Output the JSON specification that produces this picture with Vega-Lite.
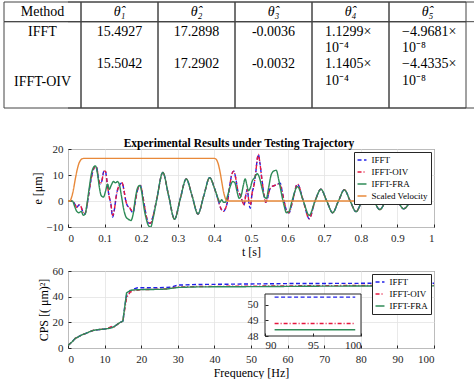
{
  "$schema": "https://vega.github.io/schema/vega-lite/v6.json",
  "background": "white",
  "padding": {"left": 3, "top": 1, "right": 0, "bottom": 0},
  "config": {
    "font": "Liberation Serif",
    "view": {"stroke": "#262626", "strokeWidth": 1},
    "axis": {
      "labelFont": "Liberation Serif", "titleFont": "Liberation Serif",
      "labelFontSize": 11, "titleFontSize": 12, "titleFontWeight": "normal",
      "labelColor": "#262626", "titleColor": "#000000",
      "grid": true, "gridColor": "#e3e3e3", "gridWidth": 0.8,
      "domain": false, "ticks": true, "tickSize": -3, "tickColor": "#262626",
      "labelPadding": 8, "titlePadding": 2
    },
    "legend": {
      "orient": "top-right", "offset": 3,
      "fillColor": "white", "strokeColor": "#262626", "padding": 2.5,
      "symbolType": "stroke", "symbolSize": 80, "symbolStrokeWidth": 1.4,
      "labelFont": "Liberation Serif", "labelFontSize": 9, "labelColor": "#000000",
      "rowPadding": 1, "labelOffset": 4
    }
  },
  "spacing": 28,
  "vconcat": [
    {
      "width": 406,
      "height": 106,
      "view": {"stroke": null},
      "data": {
        "values": [
          {"g": "c", "col": "Method", "ln": 0.81, "txt": "Method"},
          {"g": "h", "col": "t1", "ln": 0.81, "txt": "\u03b8\u0302\u2081"},
          {"g": "h", "col": "t2", "ln": 0.81, "txt": "\u03b8\u0302\u2082"},
          {"g": "h", "col": "t3", "ln": 0.81, "txt": "\u03b8\u0302\u2083"},
          {"g": "h", "col": "t4", "ln": 0.81, "txt": "\u03b8\u0302\u2084"},
          {"g": "h", "col": "t5", "ln": 0.81, "txt": "\u03b8\u0302\u2085"},
          {"g": "c", "col": "Method", "ln": 2.46, "txt": "IFFT"},
          {"g": "c", "col": "t1", "ln": 2.46, "txt": "15.4927"},
          {"g": "c", "col": "t2", "ln": 2.46, "txt": "17.2898"},
          {"g": "c", "col": "t3", "ln": 2.46, "txt": "-0.0036"},
          {"g": "l", "col": "t4", "ln": 2.46, "txt": "1.1299\u00d7"},
          {"g": "l", "col": "t4", "ln": 3.87, "txt": "10\u207b\u2074"},
          {"g": "l", "col": "t5", "ln": 2.46, "txt": "\u22124.9681\u00d7"},
          {"g": "l", "col": "t5", "ln": 3.87, "txt": "10\u207b\u2078"},
          {"g": "c", "col": "t1", "ln": 5.19, "txt": "15.5042"},
          {"g": "c", "col": "t2", "ln": 5.19, "txt": "17.2902"},
          {"g": "c", "col": "t3", "ln": 5.19, "txt": "-0.0032"},
          {"g": "l", "col": "t4", "ln": 5.19, "txt": "1.1405\u00d7"},
          {"g": "l", "col": "t4", "ln": 6.58, "txt": "10\u207b\u2074"},
          {"g": "l", "col": "t5", "ln": 5.19, "txt": "\u22124.4335\u00d7"},
          {"g": "l", "col": "t5", "ln": 6.58, "txt": "10\u207b\u2078"},
          {"g": "c", "col": "Method", "ln": 6.64, "txt": "IFFT-OIV"}
        ]
      },
      "encoding": {
        "x": {
          "field": "col", "type": "nominal",
          "scale": {"type": "band", "domain": ["Method", "t1", "t2", "t3", "t4", "t5"], "range": [-64, 398], "paddingInner": 0, "paddingOuter": 0},
          "axis": null
        },
        "y": {
          "field": "ln", "type": "quantitative",
          "scale": {"domain": [0, 8.83], "nice": false, "zero": false, "reverse": true},
          "axis": {"orient": "right", "domain": true, "domainColor": "#444444", "domainWidth": 1, "labels": false, "ticks": false, "grid": false, "title": null}
        }
      },
      "layer": [
        {
          "data": {
            "values": [
              {"col": "Method", "y0": 0, "y1": 1.64}, {"col": "t1", "y0": 0, "y1": 1.64}, {"col": "t2", "y0": 0, "y1": 1.64},
              {"col": "t3", "y0": 0, "y1": 1.64}, {"col": "t4", "y0": 0, "y1": 1.64}, {"col": "t5", "y0": 0, "y1": 1.64},
              {"col": "Method", "y0": 1.64, "y1": 8.83}, {"col": "t1", "y0": 1.64, "y1": 8.83}, {"col": "t2", "y0": 1.64, "y1": 8.83},
              {"col": "t3", "y0": 1.64, "y1": 8.83}, {"col": "t4", "y0": 1.64, "y1": 8.83}, {"col": "t5", "y0": 1.64, "y1": 8.83}
            ]
          },
          "mark": {"type": "rect", "filled": false, "color": "#444444", "strokeWidth": 1},
          "encoding": {
            "y": {"field": "y0", "type": "quantitative", "scale": {"domain": [0, 8.83], "nice": false, "zero": false, "reverse": true}, "axis": null},
            "y2": {"field": "y1"}
          }
        },
        {
          "data": {"values": [{"ln": 0}, {"ln": 1.64}, {"ln": 8.83}]},
          "mark": {"type": "rule", "color": "#444444", "strokeWidth": 1},
          "encoding": {"x": null}
        },
        {
          "transform": [{"filter": "datum.g == 'c'"}],
          "mark": {"type": "text", "fontSize": 14, "color": "#000000", "baseline": "middle", "align": "center"},
          "encoding": {"text": {"field": "txt"}}
        },
        {
          "transform": [{"filter": "datum.g == 'h'"}],
          "mark": {"type": "text", "fontSize": 14, "fontStyle": "italic", "color": "#000000", "baseline": "middle", "align": "center"},
          "encoding": {"text": {"field": "txt"}}
        },
        {
          "transform": [{"filter": "datum.g == 'l'"}],
          "mark": {"type": "text", "fontSize": 14, "color": "#000000", "baseline": "middle", "align": "left"},
          "encoding": {
            "x": {"field": "col", "type": "nominal", "bandPosition": 0.17},
            "text": {"field": "txt"}
          }
        }
      ]
    },
    {
      "bounds": "flush",
      "spacing": 44,
      "resolve": {"scale": {"color": "independent", "strokeDash": "independent"}, "legend": {"color": "independent", "strokeDash": "independent"}},
      "vconcat": [
        {
          "width": 366,
          "height": 78,
          "title": {"text": "Experimental Results under Testing Trajectory", "font": "Liberation Serif", "fontSize": 11.5, "fontWeight": "bold", "color": "#000000", "offset": -6, "dx": -12},
          "data": {
            "values": [
              {"s": "IFFT", "t": 0, "e": 0}, {"s": "IFFT", "t": 0.012, "e": 0}, {"s": "IFFT", "t": 0.018, "e": -1}, {"s": "IFFT", "t": 0.024, "e": -2.5},
              {"s": "IFFT", "t": 0.03, "e": -1.5}, {"s": "IFFT", "t": 0.035, "e": -2}, {"s": "IFFT", "t": 0.04, "e": -4}, {"s": "IFFT", "t": 0.046, "e": -5},
              {"s": "IFFT", "t": 0.051, "e": -2.5}, {"s": "IFFT", "t": 0.056, "e": 2}, {"s": "IFFT", "t": 0.062, "e": 7.5}, {"s": "IFFT", "t": 0.068, "e": 11.5},
              {"s": "IFFT", "t": 0.074, "e": 13.2}, {"s": "IFFT", "t": 0.078, "e": 13}, {"s": "IFFT", "t": 0.083, "e": 9}, {"s": "IFFT", "t": 0.088, "e": 6.5},
              {"s": "IFFT", "t": 0.093, "e": 8}, {"s": "IFFT", "t": 0.098, "e": 11.5}, {"s": "IFFT", "t": 0.102, "e": 11.5}, {"s": "IFFT", "t": 0.107, "e": 7},
              {"s": "IFFT", "t": 0.112, "e": 2}, {"s": "IFFT", "t": 0.117, "e": -1}, {"s": "IFFT", "t": 0.122, "e": -6.2}, {"s": "IFFT", "t": 0.127, "e": -3},
              {"s": "IFFT", "t": 0.132, "e": 2}, {"s": "IFFT", "t": 0.138, "e": 5.5}, {"s": "IFFT", "t": 0.143, "e": 6.5}, {"s": "IFFT", "t": 0.148, "e": 7},
              {"s": "IFFT", "t": 0.153, "e": 4}, {"s": "IFFT", "t": 0.158, "e": 0}, {"s": "IFFT", "t": 0.163, "e": -2}, {"s": "IFFT", "t": 0.168, "e": -2.5},
              {"s": "IFFT", "t": 0.173, "e": -3.8}, {"s": "IFFT", "t": 0.178, "e": -4.5}, {"s": "IFFT", "t": 0.183, "e": -1}, {"s": "IFFT", "t": 0.188, "e": 3},
              {"s": "IFFT", "t": 0.193, "e": 5.5}, {"s": "IFFT", "t": 0.198, "e": 6}, {"s": "IFFT", "t": 0.203, "e": 3}, {"s": "IFFT", "t": 0.209, "e": -2},
              {"s": "IFFT", "t": 0.215, "e": -6.5}, {"s": "IFFT", "t": 0.221, "e": -8.5}, {"s": "IFFT", "t": 0.226, "e": -8.5}, {"s": "IFFT", "t": 0.232, "e": -6},
              {"s": "IFFT", "t": 0.243, "e": 1}, {"s": "IFFT", "t": 0.259, "e": 11}, {"s": "IFFT", "t": 0.275, "e": 2}, {"s": "IFFT", "t": 0.291, "e": -7},
              {"s": "IFFT", "t": 0.307, "e": 1}, {"s": "IFFT", "t": 0.323, "e": 8.5}, {"s": "IFFT", "t": 0.339, "e": 2}, {"s": "IFFT", "t": 0.355, "e": -5},
              {"s": "IFFT", "t": 0.371, "e": 2}, {"s": "IFFT", "t": 0.387, "e": 9}, {"s": "IFFT", "t": 0.4, "e": 5}, {"s": "IFFT", "t": 0.41, "e": 0.5},
              {"s": "IFFT", "t": 0.418, "e": -3}, {"s": "IFFT", "t": 0.425, "e": -4}, {"s": "IFFT", "t": 0.43, "e": -3}, {"s": "IFFT", "t": 0.436, "e": 0},
              {"s": "IFFT", "t": 0.442, "e": 6}, {"s": "IFFT", "t": 0.448, "e": 10.5}, {"s": "IFFT", "t": 0.453, "e": 11.5}, {"s": "IFFT", "t": 0.458, "e": 9},
              {"s": "IFFT", "t": 0.464, "e": 4}, {"s": "IFFT", "t": 0.47, "e": 2.5}, {"s": "IFFT", "t": 0.476, "e": 0}, {"s": "IFFT", "t": 0.481, "e": -1.5},
              {"s": "IFFT", "t": 0.486, "e": 2.5}, {"s": "IFFT", "t": 0.49, "e": 4.5}, {"s": "IFFT", "t": 0.494, "e": -0.5}, {"s": "IFFT", "t": 0.498, "e": -2.8},
              {"s": "IFFT", "t": 0.503, "e": 3}, {"s": "IFFT", "t": 0.508, "e": 6}, {"s": "IFFT", "t": 0.513, "e": 11}, {"s": "IFFT", "t": 0.517, "e": 16},
              {"s": "IFFT", "t": 0.52, "e": 18}, {"s": "IFFT", "t": 0.524, "e": 15}, {"s": "IFFT", "t": 0.53, "e": 8}, {"s": "IFFT", "t": 0.536, "e": 2},
              {"s": "IFFT", "t": 0.54, "e": -0.5}, {"s": "IFFT", "t": 0.545, "e": 1}, {"s": "IFFT", "t": 0.55, "e": 4}, {"s": "IFFT", "t": 0.557, "e": 5.5},
              {"s": "IFFT", "t": 0.565, "e": 6}, {"s": "IFFT", "t": 0.572, "e": 6.5}, {"s": "IFFT", "t": 0.58, "e": 6.8}, {"s": "IFFT", "t": 0.586, "e": 3},
              {"s": "IFFT", "t": 0.592, "e": -1}, {"s": "IFFT", "t": 0.598, "e": -4}, {"s": "IFFT", "t": 0.604, "e": -4.5}, {"s": "IFFT", "t": 0.612, "e": -1},
              {"s": "IFFT", "t": 0.627, "e": 6.5}, {"s": "IFFT", "t": 0.643, "e": 0}, {"s": "IFFT", "t": 0.659, "e": -6.8}, {"s": "IFFT", "t": 0.675, "e": 0},
              {"s": "IFFT", "t": 0.691, "e": 4.5}, {"s": "IFFT", "t": 0.707, "e": 0}, {"s": "IFFT", "t": 0.723, "e": -4.5}, {"s": "IFFT", "t": 0.739, "e": 0},
              {"s": "IFFT", "t": 0.755, "e": 4.3}, {"s": "IFFT", "t": 0.771, "e": 0}, {"s": "IFFT", "t": 0.787, "e": -4.1}, {"s": "IFFT", "t": 0.803, "e": 0},
              {"s": "IFFT", "t": 0.82, "e": 4}, {"s": "IFFT", "t": 0.836, "e": 0}, {"s": "IFFT", "t": 0.852, "e": -3.3}, {"s": "IFFT", "t": 0.868, "e": 0},
              {"s": "IFFT", "t": 0.885, "e": 3.5}, {"s": "IFFT", "t": 0.901, "e": 0}, {"s": "IFFT", "t": 0.917, "e": -3}, {"s": "IFFT", "t": 0.935, "e": 0},

              {"s": "IFFT-OIV", "t": 0, "e": 0}, {"s": "IFFT-OIV", "t": 0.012, "e": 0}, {"s": "IFFT-OIV", "t": 0.018, "e": -1}, {"s": "IFFT-OIV", "t": 0.024, "e": -2.5},
              {"s": "IFFT-OIV", "t": 0.03, "e": -1.5}, {"s": "IFFT-OIV", "t": 0.035, "e": -2}, {"s": "IFFT-OIV", "t": 0.04, "e": -4}, {"s": "IFFT-OIV", "t": 0.046, "e": -5},
              {"s": "IFFT-OIV", "t": 0.051, "e": -2.5}, {"s": "IFFT-OIV", "t": 0.056, "e": 2}, {"s": "IFFT-OIV", "t": 0.062, "e": 7.5}, {"s": "IFFT-OIV", "t": 0.068, "e": 11.5},
              {"s": "IFFT-OIV", "t": 0.074, "e": 13.2}, {"s": "IFFT-OIV", "t": 0.078, "e": 13}, {"s": "IFFT-OIV", "t": 0.083, "e": 9}, {"s": "IFFT-OIV", "t": 0.088, "e": 6.5},
              {"s": "IFFT-OIV", "t": 0.093, "e": 8}, {"s": "IFFT-OIV", "t": 0.098, "e": 11.5}, {"s": "IFFT-OIV", "t": 0.102, "e": 11.5}, {"s": "IFFT-OIV", "t": 0.107, "e": 7},
              {"s": "IFFT-OIV", "t": 0.112, "e": 2}, {"s": "IFFT-OIV", "t": 0.117, "e": -1}, {"s": "IFFT-OIV", "t": 0.122, "e": -5.5}, {"s": "IFFT-OIV", "t": 0.127, "e": -3},
              {"s": "IFFT-OIV", "t": 0.132, "e": 2}, {"s": "IFFT-OIV", "t": 0.138, "e": 5.5}, {"s": "IFFT-OIV", "t": 0.143, "e": 6.5}, {"s": "IFFT-OIV", "t": 0.148, "e": 7},
              {"s": "IFFT-OIV", "t": 0.153, "e": 4}, {"s": "IFFT-OIV", "t": 0.158, "e": 0}, {"s": "IFFT-OIV", "t": 0.163, "e": -2}, {"s": "IFFT-OIV", "t": 0.168, "e": -2.5},
              {"s": "IFFT-OIV", "t": 0.173, "e": -3.5}, {"s": "IFFT-OIV", "t": 0.178, "e": -4}, {"s": "IFFT-OIV", "t": 0.183, "e": -1}, {"s": "IFFT-OIV", "t": 0.188, "e": 3},
              {"s": "IFFT-OIV", "t": 0.193, "e": 5.5}, {"s": "IFFT-OIV", "t": 0.198, "e": 6}, {"s": "IFFT-OIV", "t": 0.203, "e": 3}, {"s": "IFFT-OIV", "t": 0.209, "e": -2},
              {"s": "IFFT-OIV", "t": 0.215, "e": -6.5}, {"s": "IFFT-OIV", "t": 0.221, "e": -8.5}, {"s": "IFFT-OIV", "t": 0.226, "e": -8.5}, {"s": "IFFT-OIV", "t": 0.232, "e": -6},
              {"s": "IFFT-OIV", "t": 0.243, "e": 1}, {"s": "IFFT-OIV", "t": 0.259, "e": 11}, {"s": "IFFT-OIV", "t": 0.275, "e": 2}, {"s": "IFFT-OIV", "t": 0.291, "e": -7},
              {"s": "IFFT-OIV", "t": 0.307, "e": 1}, {"s": "IFFT-OIV", "t": 0.323, "e": 8.5}, {"s": "IFFT-OIV", "t": 0.339, "e": 2}, {"s": "IFFT-OIV", "t": 0.355, "e": -5},
              {"s": "IFFT-OIV", "t": 0.371, "e": 2}, {"s": "IFFT-OIV", "t": 0.387, "e": 9}, {"s": "IFFT-OIV", "t": 0.4, "e": 5}, {"s": "IFFT-OIV", "t": 0.41, "e": 0.5},
              {"s": "IFFT-OIV", "t": 0.418, "e": -3}, {"s": "IFFT-OIV", "t": 0.425, "e": -4}, {"s": "IFFT-OIV", "t": 0.43, "e": -3}, {"s": "IFFT-OIV", "t": 0.436, "e": 0},
              {"s": "IFFT-OIV", "t": 0.442, "e": 6}, {"s": "IFFT-OIV", "t": 0.448, "e": 10.5}, {"s": "IFFT-OIV", "t": 0.453, "e": 11.5}, {"s": "IFFT-OIV", "t": 0.458, "e": 9},
              {"s": "IFFT-OIV", "t": 0.464, "e": 4}, {"s": "IFFT-OIV", "t": 0.47, "e": 2.5}, {"s": "IFFT-OIV", "t": 0.476, "e": 0}, {"s": "IFFT-OIV", "t": 0.481, "e": -1.5},
              {"s": "IFFT-OIV", "t": 0.486, "e": 2.5}, {"s": "IFFT-OIV", "t": 0.49, "e": 4.5}, {"s": "IFFT-OIV", "t": 0.494, "e": 0}, {"s": "IFFT-OIV", "t": 0.498, "e": -1.5},
              {"s": "IFFT-OIV", "t": 0.503, "e": 3}, {"s": "IFFT-OIV", "t": 0.508, "e": 6}, {"s": "IFFT-OIV", "t": 0.513, "e": 11}, {"s": "IFFT-OIV", "t": 0.517, "e": 16},
              {"s": "IFFT-OIV", "t": 0.52, "e": 18}, {"s": "IFFT-OIV", "t": 0.524, "e": 15}, {"s": "IFFT-OIV", "t": 0.53, "e": 8}, {"s": "IFFT-OIV", "t": 0.536, "e": 2},
              {"s": "IFFT-OIV", "t": 0.54, "e": -0.5}, {"s": "IFFT-OIV", "t": 0.545, "e": 1}, {"s": "IFFT-OIV", "t": 0.55, "e": 4}, {"s": "IFFT-OIV", "t": 0.557, "e": 5.5},
              {"s": "IFFT-OIV", "t": 0.565, "e": 6}, {"s": "IFFT-OIV", "t": 0.572, "e": 6.5}, {"s": "IFFT-OIV", "t": 0.58, "e": 6}, {"s": "IFFT-OIV", "t": 0.586, "e": 3},
              {"s": "IFFT-OIV", "t": 0.592, "e": -1}, {"s": "IFFT-OIV", "t": 0.598, "e": -4}, {"s": "IFFT-OIV", "t": 0.604, "e": -4.5}, {"s": "IFFT-OIV", "t": 0.612, "e": -1},
              {"s": "IFFT-OIV", "t": 0.627, "e": 6.5}, {"s": "IFFT-OIV", "t": 0.643, "e": 0}, {"s": "IFFT-OIV", "t": 0.659, "e": -6.8}, {"s": "IFFT-OIV", "t": 0.675, "e": 0},
              {"s": "IFFT-OIV", "t": 0.691, "e": 4.5}, {"s": "IFFT-OIV", "t": 0.707, "e": 0}, {"s": "IFFT-OIV", "t": 0.723, "e": -4.5}, {"s": "IFFT-OIV", "t": 0.739, "e": 0},
              {"s": "IFFT-OIV", "t": 0.755, "e": 4.3}, {"s": "IFFT-OIV", "t": 0.771, "e": 0}, {"s": "IFFT-OIV", "t": 0.787, "e": -4.1}, {"s": "IFFT-OIV", "t": 0.803, "e": 0},
              {"s": "IFFT-OIV", "t": 0.82, "e": 4}, {"s": "IFFT-OIV", "t": 0.836, "e": 0}, {"s": "IFFT-OIV", "t": 0.852, "e": -3.3}, {"s": "IFFT-OIV", "t": 0.868, "e": 0},
              {"s": "IFFT-OIV", "t": 0.885, "e": 3.5}, {"s": "IFFT-OIV", "t": 0.901, "e": 0}, {"s": "IFFT-OIV", "t": 0.917, "e": -3}, {"s": "IFFT-OIV", "t": 0.935, "e": 0},

              {"s": "IFFT-FRA", "t": 0, "e": 0}, {"s": "IFFT-FRA", "t": 0.012, "e": 0}, {"s": "IFFT-FRA", "t": 0.018, "e": -2}, {"s": "IFFT-FRA", "t": 0.024, "e": -4},
              {"s": "IFFT-FRA", "t": 0.03, "e": -4.5}, {"s": "IFFT-FRA", "t": 0.036, "e": -4}, {"s": "IFFT-FRA", "t": 0.042, "e": -5.5}, {"s": "IFFT-FRA", "t": 0.047, "e": -5},
              {"s": "IFFT-FRA", "t": 0.052, "e": -1}, {"s": "IFFT-FRA", "t": 0.058, "e": 5}, {"s": "IFFT-FRA", "t": 0.064, "e": 10.5}, {"s": "IFFT-FRA", "t": 0.07, "e": 13},
              {"s": "IFFT-FRA", "t": 0.075, "e": 13.5}, {"s": "IFFT-FRA", "t": 0.08, "e": 11}, {"s": "IFFT-FRA", "t": 0.086, "e": 5}, {"s": "IFFT-FRA", "t": 0.091, "e": 2},
              {"s": "IFFT-FRA", "t": 0.097, "e": 1.5}, {"s": "IFFT-FRA", "t": 0.103, "e": 4}, {"s": "IFFT-FRA", "t": 0.108, "e": 6.5}, {"s": "IFFT-FRA", "t": 0.113, "e": 4.5},
              {"s": "IFFT-FRA", "t": 0.118, "e": 6}, {"s": "IFFT-FRA", "t": 0.124, "e": 7.5}, {"s": "IFFT-FRA", "t": 0.13, "e": 7}, {"s": "IFFT-FRA", "t": 0.135, "e": 7.5},
              {"s": "IFFT-FRA", "t": 0.14, "e": 6.5}, {"s": "IFFT-FRA", "t": 0.146, "e": 2}, {"s": "IFFT-FRA", "t": 0.152, "e": -3}, {"s": "IFFT-FRA", "t": 0.158, "e": -6},
              {"s": "IFFT-FRA", "t": 0.165, "e": -7}, {"s": "IFFT-FRA", "t": 0.172, "e": -7.5}, {"s": "IFFT-FRA", "t": 0.178, "e": -5}, {"s": "IFFT-FRA", "t": 0.184, "e": 1},
              {"s": "IFFT-FRA", "t": 0.19, "e": 5}, {"s": "IFFT-FRA", "t": 0.196, "e": 6}, {"s": "IFFT-FRA", "t": 0.202, "e": 3}, {"s": "IFFT-FRA", "t": 0.208, "e": -3},
              {"s": "IFFT-FRA", "t": 0.214, "e": -7}, {"s": "IFFT-FRA", "t": 0.22, "e": -9.5}, {"s": "IFFT-FRA", "t": 0.226, "e": -10}, {"s": "IFFT-FRA", "t": 0.232, "e": -7},
              {"s": "IFFT-FRA", "t": 0.243, "e": 1}, {"s": "IFFT-FRA", "t": 0.259, "e": 11}, {"s": "IFFT-FRA", "t": 0.275, "e": 2}, {"s": "IFFT-FRA", "t": 0.291, "e": -7},
              {"s": "IFFT-FRA", "t": 0.307, "e": 1}, {"s": "IFFT-FRA", "t": 0.323, "e": 8.5}, {"s": "IFFT-FRA", "t": 0.339, "e": 2}, {"s": "IFFT-FRA", "t": 0.355, "e": -5},
              {"s": "IFFT-FRA", "t": 0.371, "e": 2}, {"s": "IFFT-FRA", "t": 0.387, "e": 9}, {"s": "IFFT-FRA", "t": 0.4, "e": 5}, {"s": "IFFT-FRA", "t": 0.41, "e": 1},
              {"s": "IFFT-FRA", "t": 0.415, "e": -0.5}, {"s": "IFFT-FRA", "t": 0.42, "e": 0.5}, {"s": "IFFT-FRA", "t": 0.425, "e": -0.5}, {"s": "IFFT-FRA", "t": 0.43, "e": -0.5},
              {"s": "IFFT-FRA", "t": 0.436, "e": 2}, {"s": "IFFT-FRA", "t": 0.443, "e": 5.5}, {"s": "IFFT-FRA", "t": 0.45, "e": 7.5}, {"s": "IFFT-FRA", "t": 0.456, "e": 7},
              {"s": "IFFT-FRA", "t": 0.462, "e": 3.5}, {"s": "IFFT-FRA", "t": 0.468, "e": 1}, {"s": "IFFT-FRA", "t": 0.474, "e": 2.5}, {"s": "IFFT-FRA", "t": 0.479, "e": 6},
              {"s": "IFFT-FRA", "t": 0.484, "e": 8.5}, {"s": "IFFT-FRA", "t": 0.489, "e": 6}, {"s": "IFFT-FRA", "t": 0.493, "e": 4}, {"s": "IFFT-FRA", "t": 0.498, "e": 5},
              {"s": "IFFT-FRA", "t": 0.503, "e": 7.5}, {"s": "IFFT-FRA", "t": 0.51, "e": 9}, {"s": "IFFT-FRA", "t": 0.517, "e": 10.5}, {"s": "IFFT-FRA", "t": 0.523, "e": 9},
              {"s": "IFFT-FRA", "t": 0.53, "e": 5}, {"s": "IFFT-FRA", "t": 0.537, "e": 1.5}, {"s": "IFFT-FRA", "t": 0.542, "e": 1}, {"s": "IFFT-FRA", "t": 0.548, "e": 5},
              {"s": "IFFT-FRA", "t": 0.555, "e": 10}, {"s": "IFFT-FRA", "t": 0.562, "e": 11.5}, {"s": "IFFT-FRA", "t": 0.569, "e": 11.8}, {"s": "IFFT-FRA", "t": 0.576, "e": 8},
              {"s": "IFFT-FRA", "t": 0.583, "e": 3}, {"s": "IFFT-FRA", "t": 0.59, "e": -1.5}, {"s": "IFFT-FRA", "t": 0.597, "e": -4.5}, {"s": "IFFT-FRA", "t": 0.604, "e": -4},
              {"s": "IFFT-FRA", "t": 0.612, "e": 0}, {"s": "IFFT-FRA", "t": 0.627, "e": 5.5}, {"s": "IFFT-FRA", "t": 0.643, "e": 0}, {"s": "IFFT-FRA", "t": 0.659, "e": -5.5},
              {"s": "IFFT-FRA", "t": 0.675, "e": 0}, {"s": "IFFT-FRA", "t": 0.691, "e": 4.5}, {"s": "IFFT-FRA", "t": 0.707, "e": 0}, {"s": "IFFT-FRA", "t": 0.723, "e": -4.5},
              {"s": "IFFT-FRA", "t": 0.739, "e": 0}, {"s": "IFFT-FRA", "t": 0.755, "e": 4.3}, {"s": "IFFT-FRA", "t": 0.771, "e": 0}, {"s": "IFFT-FRA", "t": 0.787, "e": -4.1},
              {"s": "IFFT-FRA", "t": 0.803, "e": 0}, {"s": "IFFT-FRA", "t": 0.82, "e": 4}, {"s": "IFFT-FRA", "t": 0.836, "e": 0}, {"s": "IFFT-FRA", "t": 0.852, "e": -3.3},
              {"s": "IFFT-FRA", "t": 0.868, "e": 0}, {"s": "IFFT-FRA", "t": 0.885, "e": 3.5}, {"s": "IFFT-FRA", "t": 0.901, "e": 0}, {"s": "IFFT-FRA", "t": 0.917, "e": -3},
              {"s": "IFFT-FRA", "t": 0.935, "e": 0},

              {"s": "Scaled Velocity", "t": 0, "e": 0}, {"s": "Scaled Velocity", "t": 0.005, "e": 0}, {"s": "Scaled Velocity", "t": 0.01, "e": 1.5},
              {"s": "Scaled Velocity", "t": 0.015, "e": 4.5}, {"s": "Scaled Velocity", "t": 0.02, "e": 8.5}, {"s": "Scaled Velocity", "t": 0.025, "e": 12},
              {"s": "Scaled Velocity", "t": 0.03, "e": 14.5}, {"s": "Scaled Velocity", "t": 0.035, "e": 15.8}, {"s": "Scaled Velocity", "t": 0.04, "e": 16.3},
              {"s": "Scaled Velocity", "t": 0.045, "e": 16.4}, {"s": "Scaled Velocity", "t": 0.4, "e": 16.4}, {"s": "Scaled Velocity", "t": 0.405, "e": 16},
              {"s": "Scaled Velocity", "t": 0.41, "e": 14.5}, {"s": "Scaled Velocity", "t": 0.415, "e": 11.5}, {"s": "Scaled Velocity", "t": 0.42, "e": 7.5},
              {"s": "Scaled Velocity", "t": 0.425, "e": 3.5}, {"s": "Scaled Velocity", "t": 0.43, "e": 1}, {"s": "Scaled Velocity", "t": 0.435, "e": 0},
              {"s": "Scaled Velocity", "t": 0.94, "e": 0}
            ]
          },
          "mark": {"type": "line", "strokeWidth": 1.4, "interpolate": "monotone", "clip": true},
          "encoding": {
            "x": {
              "field": "t", "type": "quantitative",
              "scale": {"domain": [0, 1], "nice": false},
              "axis": {"title": "t [s]", "values": [0, 0.1, 0.2, 0.3, 0.4, 0.5, 0.6, 0.7, 0.8, 0.9, 1], "format": "~g", "titlePadding": 3}
            },
            "y": {
              "field": "e", "type": "quantitative",
              "scale": {"domain": [-10, 20], "nice": false},
              "axis": {"title": "e [\u03bcm]", "values": [-10, 0, 10, 20], "titlePadding": 1}
            },
            "color": {
              "field": "s", "type": "nominal",
              "scale": {"domain": ["IFFT", "IFFT-OIV", "IFFT-FRA", "Scaled Velocity"], "range": ["#2020e8", "#e5173f", "#2e8b57", "#e8893a"]},
              "legend": {"title": null}
            },
            "strokeDash": {
              "field": "s", "type": "nominal",
              "scale": {"domain": ["IFFT", "IFFT-OIV", "IFFT-FRA", "Scaled Velocity"], "range": [[4, 2.5], [4, 2, 1, 2], [1, 0], [1, 0]]},
              "legend": {"title": null}
            }
          }
        },
        {
          "width": 366,
          "height": 77,
          "layer": [
            {
              "data": {
                "values": [
                  {"s": "IFFT", "f": 0, "c": 2}, {"s": "IFFT", "f": 1, "c": 4.5}, {"s": "IFFT", "f": 2, "c": 7.5}, {"s": "IFFT", "f": 3, "c": 9},
                  {"s": "IFFT", "f": 4, "c": 10.5}, {"s": "IFFT", "f": 5, "c": 11.5}, {"s": "IFFT", "f": 6, "c": 12.8}, {"s": "IFFT", "f": 7, "c": 13.8},
                  {"s": "IFFT", "f": 8, "c": 14.2}, {"s": "IFFT", "f": 9, "c": 14.5}, {"s": "IFFT", "f": 10, "c": 14.8}, {"s": "IFFT", "f": 11, "c": 15.3},
                  {"s": "IFFT", "f": 12, "c": 16.2}, {"s": "IFFT", "f": 13, "c": 17.5}, {"s": "IFFT", "f": 14, "c": 19.5}, {"s": "IFFT", "f": 15, "c": 21},
                  {"s": "IFFT", "f": 15.5, "c": 32}, {"s": "IFFT", "f": 16, "c": 41}, {"s": "IFFT", "f": 16.5, "c": 43}, {"s": "IFFT", "f": 17, "c": 44.5},
                  {"s": "IFFT", "f": 18, "c": 46}, {"s": "IFFT", "f": 19, "c": 46.9}, {"s": "IFFT", "f": 25, "c": 47}, {"s": "IFFT", "f": 28, "c": 47.3},
                  {"s": "IFFT", "f": 30, "c": 49}, {"s": "IFFT", "f": 35, "c": 49.5}, {"s": "IFFT", "f": 40, "c": 49.6}, {"s": "IFFT", "f": 50, "c": 49.9},
                  {"s": "IFFT", "f": 60, "c": 50.2}, {"s": "IFFT", "f": 70, "c": 50.3}, {"s": "IFFT", "f": 80, "c": 50.4}, {"s": "IFFT", "f": 90, "c": 50.5},
                  {"s": "IFFT", "f": 100, "c": 50.5},
                  {"s": "IFFT-OIV", "f": 0, "c": 2}, {"s": "IFFT-OIV", "f": 1, "c": 4.5}, {"s": "IFFT-OIV", "f": 2, "c": 7.5}, {"s": "IFFT-OIV", "f": 3, "c": 9},
                  {"s": "IFFT-OIV", "f": 4, "c": 10.5}, {"s": "IFFT-OIV", "f": 5, "c": 11.5}, {"s": "IFFT-OIV", "f": 6, "c": 12.8}, {"s": "IFFT-OIV", "f": 7, "c": 13.8},
                  {"s": "IFFT-OIV", "f": 8, "c": 14.2}, {"s": "IFFT-OIV", "f": 9, "c": 14.5}, {"s": "IFFT-OIV", "f": 10, "c": 14.8}, {"s": "IFFT-OIV", "f": 11, "c": 15.4},
                  {"s": "IFFT-OIV", "f": 12, "c": 16.8}, {"s": "IFFT-OIV", "f": 12.5, "c": 16.2}, {"s": "IFFT-OIV", "f": 13, "c": 17.3}, {"s": "IFFT-OIV", "f": 14, "c": 19.5},
                  {"s": "IFFT-OIV", "f": 15, "c": 21}, {"s": "IFFT-OIV", "f": 15.5, "c": 30}, {"s": "IFFT-OIV", "f": 16, "c": 39}, {"s": "IFFT-OIV", "f": 16.5, "c": 41.5},
                  {"s": "IFFT-OIV", "f": 17, "c": 43.5}, {"s": "IFFT-OIV", "f": 18, "c": 44.8}, {"s": "IFFT-OIV", "f": 20, "c": 45.5}, {"s": "IFFT-OIV", "f": 25, "c": 45.8},
                  {"s": "IFFT-OIV", "f": 27, "c": 46.2}, {"s": "IFFT-OIV", "f": 30, "c": 47.5}, {"s": "IFFT-OIV", "f": 35, "c": 47.9}, {"s": "IFFT-OIV", "f": 40, "c": 48},
                  {"s": "IFFT-OIV", "f": 50, "c": 48.2}, {"s": "IFFT-OIV", "f": 60, "c": 48.4}, {"s": "IFFT-OIV", "f": 70, "c": 48.6}, {"s": "IFFT-OIV", "f": 80, "c": 48.7},
                  {"s": "IFFT-OIV", "f": 90, "c": 48.8}, {"s": "IFFT-OIV", "f": 100, "c": 48.8},
                  {"s": "IFFT-FRA", "f": 0, "c": 2}, {"s": "IFFT-FRA", "f": 1, "c": 4.5}, {"s": "IFFT-FRA", "f": 2, "c": 7.5}, {"s": "IFFT-FRA", "f": 3, "c": 9},
                  {"s": "IFFT-FRA", "f": 4, "c": 10.5}, {"s": "IFFT-FRA", "f": 5, "c": 11.5}, {"s": "IFFT-FRA", "f": 6, "c": 12.8}, {"s": "IFFT-FRA", "f": 7, "c": 13.8},
                  {"s": "IFFT-FRA", "f": 8, "c": 14.2}, {"s": "IFFT-FRA", "f": 9, "c": 14.5}, {"s": "IFFT-FRA", "f": 10, "c": 14.8}, {"s": "IFFT-FRA", "f": 11, "c": 15.2},
                  {"s": "IFFT-FRA", "f": 12, "c": 15.8}, {"s": "IFFT-FRA", "f": 13, "c": 17.5}, {"s": "IFFT-FRA", "f": 14, "c": 19.5}, {"s": "IFFT-FRA", "f": 15, "c": 21},
                  {"s": "IFFT-FRA", "f": 15.5, "c": 32}, {"s": "IFFT-FRA", "f": 16, "c": 43}, {"s": "IFFT-FRA", "f": 17, "c": 44.8}, {"s": "IFFT-FRA", "f": 18, "c": 45.3},
                  {"s": "IFFT-FRA", "f": 20, "c": 45.5}, {"s": "IFFT-FRA", "f": 25, "c": 45.7}, {"s": "IFFT-FRA", "f": 27, "c": 46}, {"s": "IFFT-FRA", "f": 30, "c": 47.2},
                  {"s": "IFFT-FRA", "f": 35, "c": 47.6}, {"s": "IFFT-FRA", "f": 40, "c": 47.7}, {"s": "IFFT-FRA", "f": 50, "c": 47.8}, {"s": "IFFT-FRA", "f": 60, "c": 48},
                  {"s": "IFFT-FRA", "f": 70, "c": 48.2}, {"s": "IFFT-FRA", "f": 80, "c": 48.3}, {"s": "IFFT-FRA", "f": 90, "c": 48.4}, {"s": "IFFT-FRA", "f": 100, "c": 48.4}
                ]
              },
              "mark": {"type": "line", "strokeWidth": 1.4, "clip": true},
              "encoding": {
                "x": {
                  "field": "f", "type": "quantitative",
                  "scale": {"domain": [0, 100], "nice": false},
                  "axis": {"title": "Frequency [Hz]", "values": [0, 10, 20, 30, 40, 50, 60, 70, 80, 90, 100], "titlePadding": 3}
                },
                "y": {
                  "field": "c", "type": "quantitative",
                  "scale": {"domain": [0, 60], "nice": false},
                  "axis": {"title": "CPS [( \u03bcm)\u00b2]", "values": [0, 20, 40, 60], "titlePadding": 2}
                },
                "color": {
                  "field": "s", "type": "nominal",
                  "scale": {"domain": ["IFFT", "IFFT-OIV", "IFFT-FRA"], "range": ["#2020e8", "#e5173f", "#2e8b57"]},
                  "legend": {"title": null}
                },
                "strokeDash": {
                  "field": "s", "type": "nominal",
                  "scale": {"domain": ["IFFT", "IFFT-OIV", "IFFT-FRA"], "range": [[4, 2.5], [4, 2, 1, 2], [1, 0]]},
                  "legend": {"title": null}
                }
              }
            },
            {
              "layer": [
                {
                  "data": {"values": [{"f0": 90, "f1": 100, "c0": 48, "c1": 50.7}]},
                  "mark": {"type": "rect", "fill": "white", "stroke": "#262626", "strokeWidth": 1},
                  "encoding": {
                    "x": {
                      "field": "f0", "type": "quantitative",
                      "scale": {"domain": [90, 100], "range": [197, 293], "nice": false, "zero": false},
                      "axis": {"orient": "bottom", "offset": -12, "values": [90, 95, 100], "title": null, "labelPadding": 6, "grid": false, "zindex": 1}
                    },
                    "x2": {"field": "f1"},
                    "y": {
                      "field": "c0", "type": "quantitative",
                      "scale": {"domain": [48, 50.7], "range": [65, 23], "nice": false, "zero": false},
                      "axis": {"orient": "left", "offset": -197, "values": [48, 49, 50], "title": null, "labelPadding": 10, "grid": false, "zindex": 1}
                    },
                    "y2": {"field": "c1"}
                  }
                },
                {
                  "data": {
                    "values": [
                      {"s": "IFFT", "f": 91, "c": 50.5}, {"s": "IFFT", "f": 99.4, "c": 50.5},
                      {"s": "IFFT-OIV", "f": 91, "c": 48.8}, {"s": "IFFT-OIV", "f": 99.4, "c": 48.8},
                      {"s": "IFFT-FRA", "f": 91, "c": 48.4}, {"s": "IFFT-FRA", "f": 99.4, "c": 48.4}
                    ]
                  },
                  "mark": {"type": "line", "strokeWidth": 1.4},
                  "encoding": {
                    "x": {"field": "f", "type": "quantitative", "axis": {"orient": "bottom", "offset": -12, "values": [90, 95, 100], "title": null, "labelPadding": 6, "grid": false, "zindex": 1}},
                    "y": {"field": "c", "type": "quantitative", "axis": {"orient": "left", "offset": -197, "values": [48, 49, 50], "title": null, "labelPadding": 10, "grid": false, "zindex": 1}},
                    "color": {"field": "s", "type": "nominal", "legend": {"title": null}},
                    "strokeDash": {"field": "s", "type": "nominal", "legend": {"title": null}}
                  }
                }
              ]
            }
          ],
          "resolve": {"scale": {"x": "independent", "y": "independent"}, "axis": {"x": "independent", "y": "independent"}}
        }
      ]
    }
  ]
}
